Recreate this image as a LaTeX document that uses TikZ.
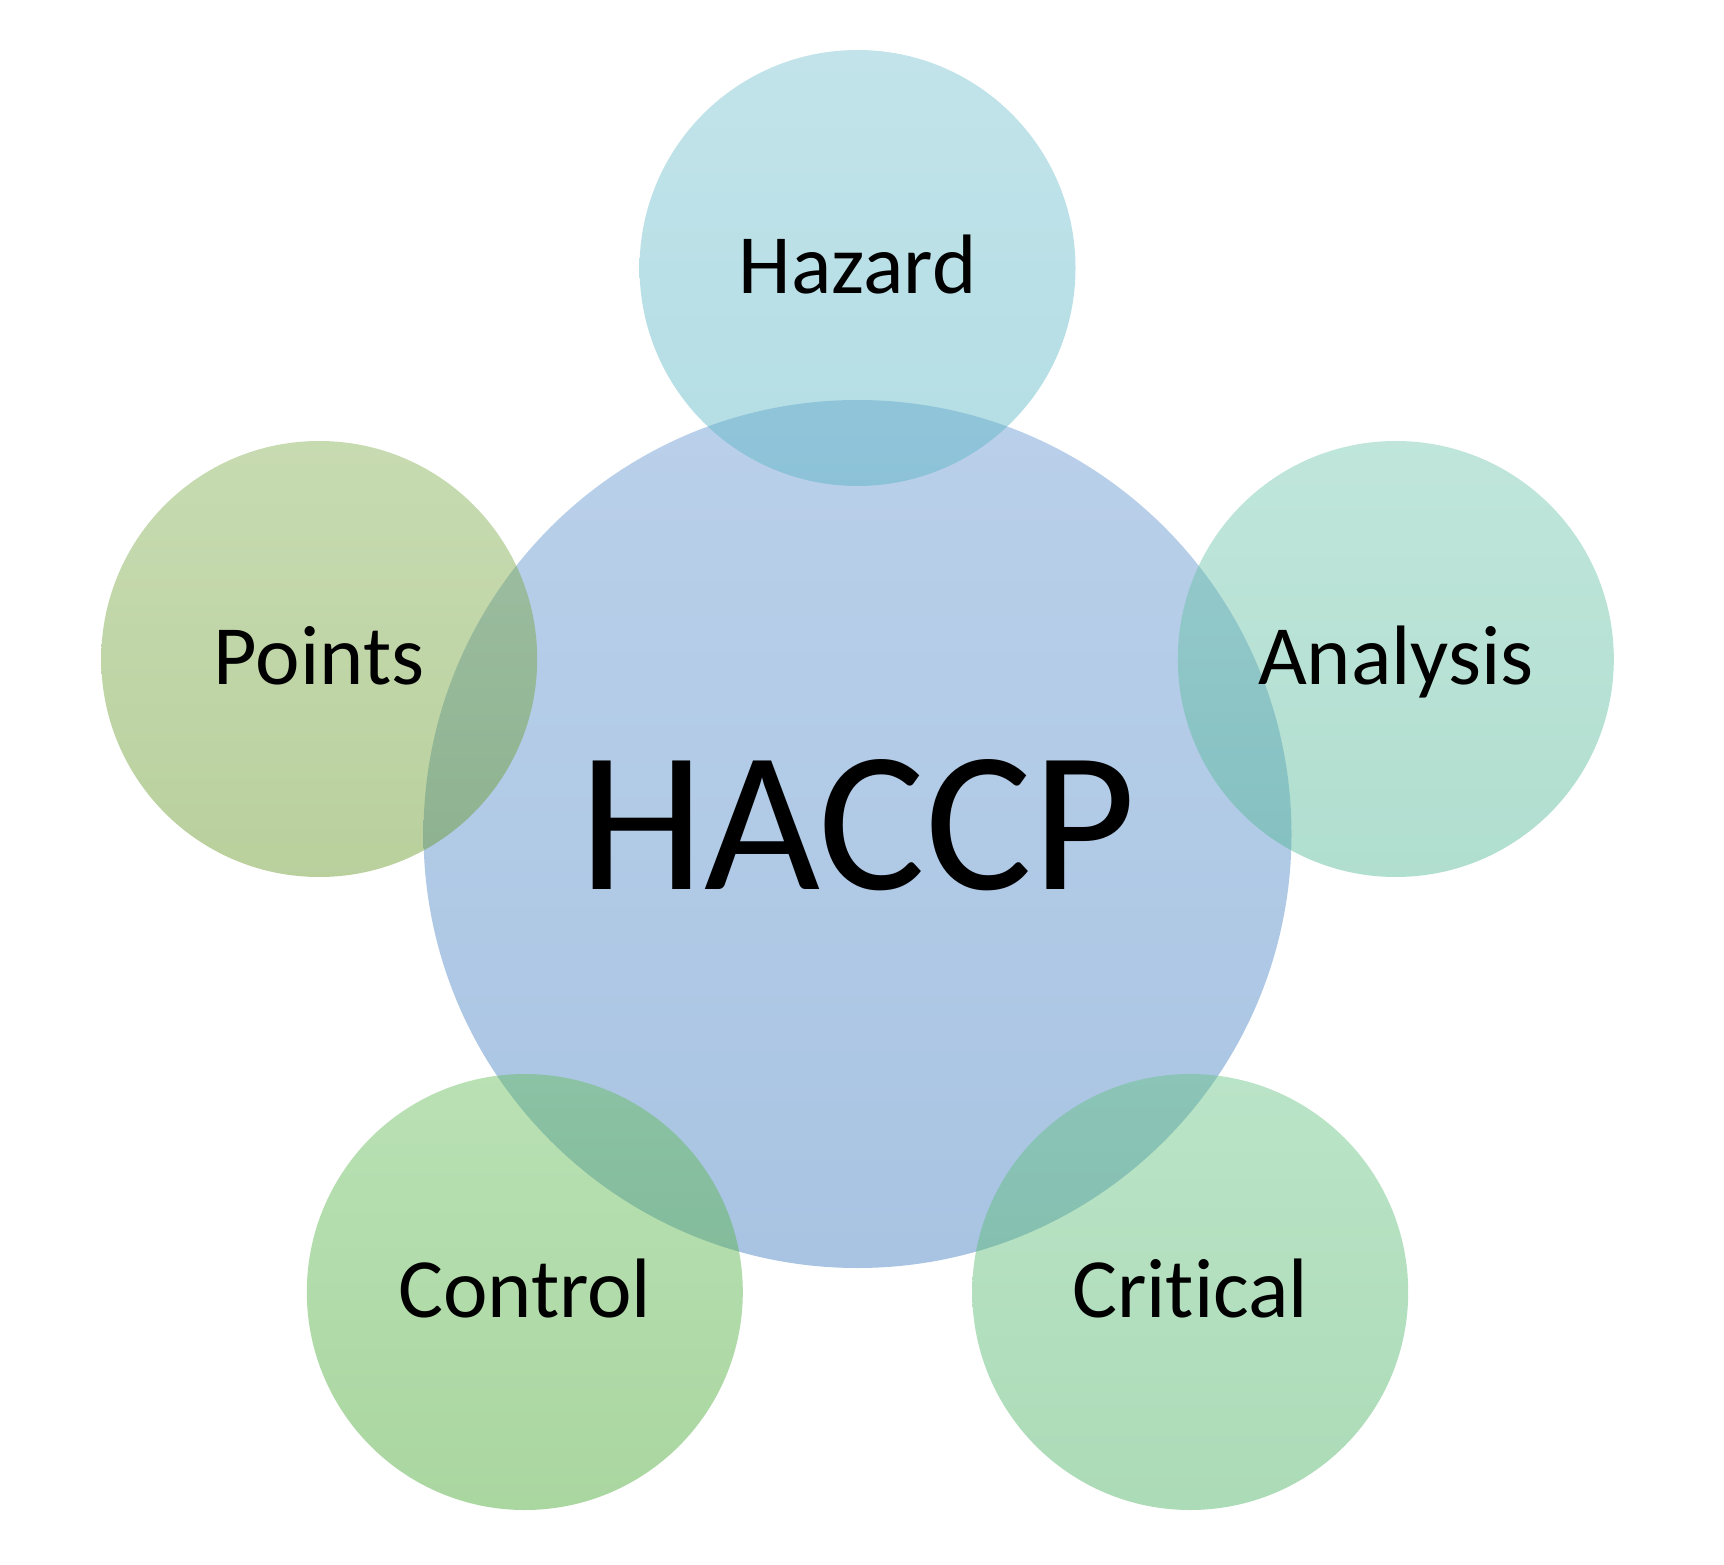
\documentclass[tikz,border=0pt]{standalone}
\usepackage{fontspec}
\setmainfont{Carlito}[Ligatures=NoCommon]
\usetikzlibrary{shapes.geometric}
\definecolor{hubtop}{RGB}{186,208,234}
\definecolor{hubbot}{RGB}{168,196,226}
\definecolor{hazardtop}{RGB}{118,194,207}
\definecolor{hazardbot}{RGB}{88,180,196}
\definecolor{analysistop}{RGB}{115,199,175}
\definecolor{analysisbot}{RGB}{80,182,148}
\definecolor{criticaltop}{RGB}{102,195,131}
\definecolor{criticalbot}{RGB}{71,175,95}
\definecolor{controltop}{RGB}{100,188,89}
\definecolor{controlbot}{RGB}{66,164,44}
\definecolor{pointstop}{RGB}{131,175,82}
\definecolor{pointsbot}{RGB}{100,151,38}
\tikzset{
	hub/.style={circle, minimum size=8.68cm, inner sep=0pt, outer sep=0pt, top color=hubtop, bottom color=hubbot, font=\fontsize{57}{68}\selectfont, text height=36.7pt, text depth=5.1pt},
	petal/.style={circle, minimum size=4.36cm, inner sep=0pt, outer sep=0pt, fill opacity=0.45, text opacity=1, font=\fontsize{24}{29}\selectfont, text height=15.5pt, text depth=1pt},
}

\begin{document}
\begin{tikzpicture}
			%%%%% START %%%%%
			
			\useasboundingbox (0, 0) rectangle (17.24, 15.64);
			
			\node[hub] (haccp) at (8.575, 7.30) {HACCP};
			
			\node[petal, top color=hazardtop, bottom color=hazardbot] (hazard) at (8.575, 12.96) {Hazard};
			\node[petal, top color=analysistop, bottom color=analysisbot] (analysis) at (13.958, 9.05) {Analysis};
			\node[petal, top color=criticaltop, bottom color=criticalbot] (critical) at (11.902, 2.72) {Critical};
			\node[petal, top color=controltop, bottom color=controlbot] (control) at (5.248, 2.72) {Control};
			\node[petal, top color=pointstop, bottom color=pointsbot] (points) at (3.192, 9.05) {Points};
			
			%%%%% END %%%%%
		\end{tikzpicture}
\end{document}
